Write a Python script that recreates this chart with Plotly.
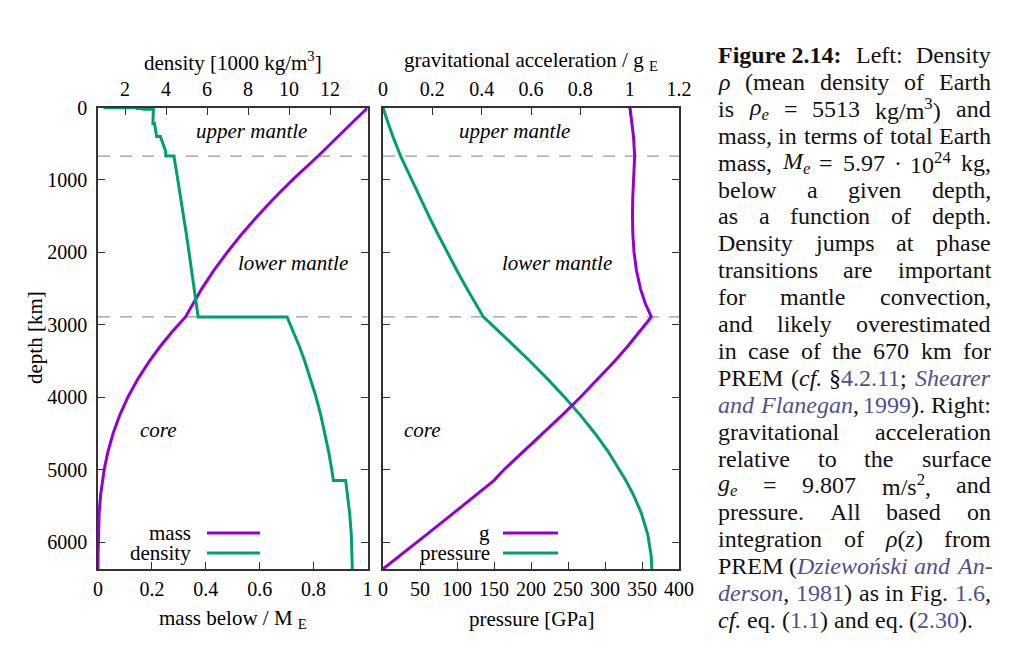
import re
import plotly.graph_objects as go

# ---------------- data (read / estimated from the figure, PREM based) ----------------
depth = [0, 24.4, 100, 220, 400, 670, 1000, 1250, 1500, 1750, 2000, 2250, 2500, 2700, 2891,
         3100, 3300, 3500, 3750, 4000, 4250, 4500, 4750, 5000, 5150, 5350, 5600, 5900, 6200, 6371]
mass_below = [1.0, 0.9948, 0.9734, 0.9406, 0.8920, 0.8169, 0.7215, 0.6541, 0.5912, 0.5328, 0.4791,
              0.4299, 0.3853, 0.3528, 0.3246, 0.2742, 0.2303, 0.1908, 0.1475, 0.1108, 0.0804,
              0.0559, 0.0369, 0.0227, 0.0165, 0.0097, 0.0042, 0.00096, 0.00005, 0.0]
g_rel = [1.0, 1.0025, 1.0047, 1.0091, 1.0155, 1.0202, 1.0152, 1.0124, 1.0114, 1.0128, 1.0178,
         1.0275, 1.0437, 1.0626, 1.0879, 1.0402, 0.9912, 0.9396, 0.8715, 0.8000, 0.7254,
         0.6482, 0.5700, 0.4902, 0.4492, 0.3777, 0.2856, 0.1751, 0.0636, 0.0]
pressure = [0, 0.60, 3.12, 7.11, 13.34, 23.81, 38.57, 50.13, 62.02, 74.24, 86.83, 99.82, 113.30,
            124.50, 135.62, 157.57, 178.22, 198.36, 222.59, 245.52, 266.91, 286.53, 304.22,
            319.83, 328.21, 338.60, 349.10, 357.91, 362.50, 363.19]

depth_rho = [0, 3, 3, 15, 15, 24.4, 24.4, 220, 220, 400, 400, 600, 670, 670, 835, 1000, 1250,
             1500, 1750, 2000, 2250, 2500, 2700, 2891, 2891, 3100, 3300, 3500, 3750, 4000, 4250,
             4500, 4750, 5000, 5150, 5150, 5350, 5600, 5900, 6200, 6371]
density = [1.02, 1.02, 2.6, 2.6, 2.9, 2.9, 3.381, 3.360, 3.436, 3.543, 3.724, 3.976, 3.992, 4.381,
           4.482, 4.580, 4.723, 4.860, 4.992, 5.121, 5.247, 5.372, 5.471, 5.567, 9.904, 10.224,
           10.507, 10.766, 11.060, 11.322, 11.553, 11.756, 11.933, 12.086, 12.167, 12.764, 12.862,
           12.959, 13.040, 13.082, 13.089]

boundary_depths = [670, 2891]

depth_ticks = [0, 1000, 2000, 3000, 4000, 5000, 6000]
mass_ticks = [0, 0.2, 0.4, 0.6, 0.8, 1]
mass_labels = ["0", "0.2", "0.4", "0.6", "0.8", "1"]
density_ticks = [2, 4, 6, 8, 10, 12]
pressure_ticks = [0, 50, 100, 150, 200, 250, 300, 350, 400]
g_ticks = [0, 0.2, 0.4, 0.6, 0.8, 1, 1.2]
g_labels = ["0", "0.2", "0.4", "0.6", "0.8", "1", "1.2"]

# ---------------- style ----------------
W, H = 1024, 663
PURPLE = "#9400d3"
GREEN = "#009e73"
AX = "#333333"
LINK = "#50508f"
SERIF = "Liberation Serif"
TICKFONT = dict(family=SERIF, size=20, color="black")


def px(x):
    return x / W


def py(y):
    return 1 - y / H


XL = [px(98), px(367.5)]
XR = [px(383), px(679)]
YD = [py(569), py(107.5)]

fig = go.Figure()
fig.add_trace(go.Scatter(x=mass_below, y=depth, xaxis="x", yaxis="y", mode="lines",
                         line=dict(color=PURPLE, width=3), name="mass", showlegend=False))
fig.add_trace(go.Scatter(x=density, y=depth_rho, xaxis="x2", yaxis="y", mode="lines",
                         line=dict(color=GREEN, width=3), name="density", showlegend=False))
fig.add_trace(go.Scatter(x=g_rel, y=depth, xaxis="x4", yaxis="y2", mode="lines",
                         line=dict(color=PURPLE, width=3), name="g", showlegend=False))
fig.add_trace(go.Scatter(x=pressure, y=depth, xaxis="x3", yaxis="y2", mode="lines",
                         line=dict(color=GREEN, width=3), name="pressure", showlegend=False))

common = dict(ticks="inside", ticklen=7, tickwidth=1.2, tickcolor=AX, showgrid=False,
              zeroline=False, tickfont=TICKFONT, automargin=False)

layout = dict(
    width=W, height=H, margin=dict(l=0, r=0, t=0, b=0, pad=0, autoexpand=False),
    paper_bgcolor="white", plot_bgcolor="white", showlegend=False,
    xaxis=dict(domain=XL, range=[0, 1], anchor="y", tickvals=mass_ticks, ticktext=mass_labels,
               showline=True, linecolor=AX, linewidth=1.5, mirror=True,
               ticklabelstandoff=1, **common),
    xaxis2=dict(overlaying="x", side="top", anchor="y", range=[0.68, 13.83],
                tickvals=density_ticks, showline=False, ticklabelstandoff=7, **common),
    yaxis=dict(domain=YD, range=[6371, 0], anchor="x", tickvals=depth_ticks,
               showline=True, linecolor=AX, linewidth=1.5, mirror="ticks",
               ticklabelstandoff=5, **common),
    xaxis3=dict(domain=XR, range=[0, 400], anchor="y2", tickvals=pressure_ticks,
                showline=True, linecolor=AX, linewidth=1.5, mirror=True,
                ticklabelstandoff=1, **common),
    xaxis4=dict(overlaying="x3", side="top", anchor="y2", range=[0, 1.2], tickvals=g_ticks,
                ticktext=g_labels, showline=False, ticklabelstandoff=7, **common),
    yaxis2=dict(domain=YD, range=[6371, 0], anchor="x3", tickvals=depth_ticks,
                showticklabels=False, showline=True, linecolor=AX, linewidth=1.5,
                mirror="ticks", **common),
)
fig.update_layout(**layout)

shapes = []
for d in boundary_depths:
    for xr, yr in (("x domain", "y"), ("x3 domain", "y2")):
        shapes.append(dict(type="line", xref=xr, yref=yr, x0=0, x1=1, y0=d, y1=d,
                           line=dict(color="#999999", width=1.3, dash="12px,10px"), layer="below"))

# legend samples (gnuplot style: text then line)
legend_items = [(193, 207, 260, 533, "mass", PURPLE), (193, 207, 260, 553, "density", GREEN),
                (492, 503, 558, 533, "g", PURPLE), (492, 503, 558, 553, "pressure", GREEN)]
ann = []
for tx, lx0, lx1, ly, label, col in legend_items:
    shapes.append(dict(type="line", xref="paper", yref="paper", x0=px(lx0), x1=px(lx1),
                       y0=py(ly), y1=py(ly), line=dict(color=col, width=3)))
    ann.append(dict(x=px(tx), y=py(ly), xref="paper", yref="paper", text=label, showarrow=False,
                    xanchor="right", yanchor="middle", font=dict(family=SERIF, size=21, color="black")))

fig.update_layout(shapes=shapes)

# axis titles
TF = dict(family=SERIF, size=21, color="black")
titles = [
    dict(x=px(232.5), y=py(61), text="density [1000 kg/m<sup>3</sup>]", font=TF),
    dict(x=px(531), y=py(61), text="gravitational acceleration / g <sub>E</sub>", font=TF),
    dict(x=px(232.5), y=py(619), text="mass below / M <sub>E</sub>", font=TF),
    dict(x=px(531), y=py(619), text="pressure [GPa]", font=TF),
    dict(x=px(35), y=py(338), text="depth [km]", font=TF, textangle=-90),
]
for a in titles:
    a.update(xref="paper", yref="paper", showarrow=False, xanchor="center", yanchor="middle")
ann += titles

# region labels
RF = dict(family=SERIF, size=21, color="black")
regions = [("x", "y", 0.568, 324, "upper mantle"), ("x", "y", 0.724, 2144, "lower mantle"),
           ("x", "y", 0.223, 4447, "core"),
           ("x3", "y2", 178, 324, "upper mantle"), ("x3", "y2", 235, 2144, "lower mantle"),
           ("x3", "y2", 54, 4447, "core")]
for xr, yr, xv, yv, t in regions:
    ann.append(dict(x=xv, y=yv, xref=xr, yref=yr, text="<i>%s</i>" % t, showarrow=False,
                    xanchor="center", yanchor="middle", font=RF))

# ---------------- caption, justified like the book's text block ----------------
REG = {c: 0.5 for c in "0123456789"}
REG.update({" ": .25, "(": .333, ")": .333, ",": .25, ".": .25, ":": .278, ";": .278, "=": .564,
            "/": .278, "§": .5, "·": .25, "-": .333, "ń": .5, "ρ": .5})
REG.update(dict(zip("abcdefghijklmnopqrstuvwxyz",
                    [.444, .5, .444, .5, .444, .333, .5, .5, .278, .278, .5, .278, .778, .5, .5, .5,
                     .5, .333, .389, .278, .5, .5, .722, .5, .5, .444])))
REG.update(dict(zip("ABCDEFGHIJKLMNOPQRSTUVWXYZ",
                    [.722, .667, .667, .722, .611, .556, .722, .722, .333, .389, .722, .611, .889,
                     .722, .722, .556, .722, .667, .556, .611, .722, .722, .944, .722, .722, .611])))
ITAL = dict(REG)
ITAL.update({"a": .5, "k": .444, "m": .722, "r": .389, "v": .444, "w": .667, "x": .444,
             "y": .444, "z": .389, "f": .278, "A": .611, "M": .833, "S": .5, "F": .611})
BOLD = dict(REG)
BOLD.update({"F": .611, "u": .556, "r": .444, "g": .5, ":": .333, "e": .444, "i": .278})


def text_width(s, size):
    w, italic, bold, scale = 0.0, False, False, 1.0
    for tok in re.findall(r"<[^>]+>|[^<]", s):
        if tok.startswith("<"):
            t = tok.lower()
            if t == "<i>":
                italic = True
            elif t == "</i>":
                italic = False
            elif t == "<b>":
                bold = True
            elif t == "</b>":
                bold = False
            elif t in ("<sub>", "<sup>"):
                scale = 0.7
            elif t in ("</sub>", "</sup>"):
                scale = 1.0
            continue
        tbl = BOLD if bold else (ITAL if italic else REG)
        w += tbl.get(tok, 0.5) * size * scale
    return w


L = "<span style='color:%s'>%%s</span>" % LINK
caption = [
    ["<b>Figure 2.14:</b>", "Left:", "Density"],
    ["<i>ρ</i>", "(mean", "density", "of", "Earth"],
    ["is", "<i>ρ<sub>e</sub></i>", "=", "5513", "kg/m<sup>3</sup>)", "and"],
    ["mass,", "in", "terms", "of", "total", "Earth"],
    ["mass,", "<i>M<sub>e</sub></i>", "=", "5.97", "·", "10<sup>24</sup>", "kg,"],
    ["below", "a", "given", "depth,"],
    ["as", "a", "function", "of", "depth."],
    ["Density", "jumps", "at", "phase"],
    ["transitions", "are", "important"],
    ["for", "mantle", "convection,"],
    ["and", "likely", "overestimated"],
    ["in", "case", "of", "the", "670", "km", "for"],
    ["PREM", "(<i>cf.</i>", "§" + L % "4.2.11" + ";", "<i>" + L % "Shearer" + "</i>"],
    ["<i>" + L % "and" + "</i>", "<i>" + L % "Flanegan" + "</i>,", L % "1999" + ").", "Right:"],
    ["gravitational", "acceleration"],
    ["relative", "to", "the", "surface"],
    ["<i>g<sub>e</sub></i>", "=", "9.807", "m/s<sup>2</sup>,", "and"],
    ["pressure.", "All", "based", "on"],
    ["integration", "of", "<i>ρ</i>(<i>z</i>)", "from"],
    ["PREM", "(<i>" + L % "Dziewoński" + "</i>", "<i>" + L % "and" + "</i>", "<i>" + L % "An-" + "</i>"],
    ["<i>" + L % "derson" + "</i>,", L % "1981" + ")", "as", "in", "Fig.", L % "1.6" + ","],
    ["<i>cf.</i>", "eq.", "(" + L % "1.1" + ")", "and", "eq.", "(" + L % "2.30" + ")."],
]
CSIZE = 24
CF = dict(family=SERIF, size=CSIZE, color="#111111")
LEFT, RIGHT = 716, 989
for i, words in enumerate(caption):
    yc = 55 + 26.9 * i
    widths = [text_width(w, CSIZE) for w in words]
    if i < len(caption) - 1 and len(words) > 1:
        gap = (RIGHT - LEFT - sum(widths)) / (len(words) - 1)
    else:
        gap = 0.25 * CSIZE
    x = LEFT
    for w, wd in zip(words, widths):
        ann.append(dict(x=px(x), y=py(yc), xref="paper", yref="paper", text=w,
                        showarrow=False, xanchor="left", yanchor="middle", font=CF))
        x += wd + gap

fig.update_layout(annotations=ann)
fig.write_html("out.html")
